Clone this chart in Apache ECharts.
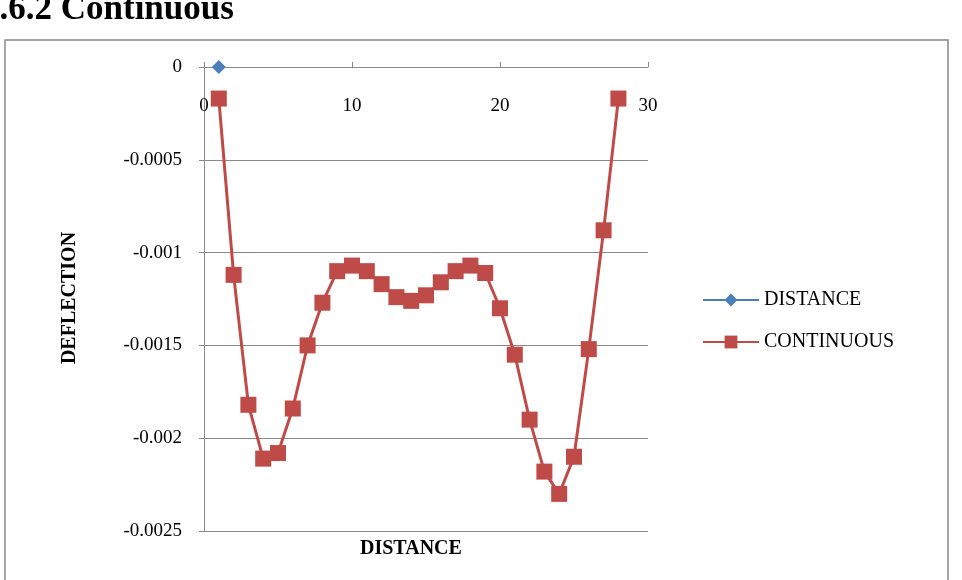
<!DOCTYPE html>
<html>
<head>
<meta charset="utf-8">
<script src="https://cdn.jsdelivr.net/npm/echarts@6/dist/echarts.min.js"></script>
<style>html,body{margin:0;padding:0;background:#fff}</style>
</head>
<body>
<div id="main" style="width:962px;height:580px"></div>
<script>
// 数据
var distancePts = [[1, 0]];
var contX = [1,2,3,4,5,6,7,8,9,10,11,12,13,14,15,16,17,18,19,20,21,22,23,24,25,26,27,28];
var contY = [-0.00017,-0.00112,-0.00182,-0.00211,-0.00208,-0.00184,-0.0015,-0.00127,-0.0011,-0.00107,
    -0.0011,-0.00117,-0.00124,-0.00126,-0.00123,-0.00116,-0.0011,-0.00107,-0.00111,-0.0013,
    -0.00155,-0.0019,-0.00218,-0.0023,-0.0021,-0.00152,-0.00088,-0.00017];
var contPts = [];
for (var i = 0; i < contX.length; i++) contPts.push([contX[i], contY[i]]);

var myChart = echarts.init(document.getElementById('main'));
var serif = 'Liberation Serif';
option = {
    animation: false,
    textStyle: {fontFamily: serif},
    graphic: [
        {type: 'rect', shape: {x: 5, y: 40, width: 943, height: 560}, style: {fill: 'none', stroke: '#888', lineWidth: 1.5}},
        {type: 'text', left: -18, top: -8, style: {text: '4.6.2 Continuous', font: 'bold 35px "Liberation Serif"', fill: '#000'}},
        {type: 'text', left: 360, top: 539, style: {text: 'DISTANCE', font: 'bold 20px "Liberation Serif"', fill: '#000'}},
        {type: 'text', x: 70, y: 298, rotation: Math.PI / 2, style: {text: 'DEFLECTION', font: 'bold 20px "Liberation Serif"', fill: '#000', align: 'center', verticalAlign: 'middle'}}
    ],
    legend: {
        orient: 'vertical',
        left: 697, top: 285,
        itemGap: 22,
        itemWidth: 56, itemHeight: 16,
        textStyle: {fontFamily: serif, fontSize: 20, color: '#000'},
        data: ['DISTANCE', 'CONTINUOUS']
    },
    grid: {left: 204, right: 314, top: 67, bottom: 49},
    xAxis: {
        type: 'value', min: 0, max: 30, interval: 10, position: 'top',
        axisLine: {lineStyle: {color: '#888'}},
        axisTick: {show: true, inside: false, lineStyle: {color: '#888'}},
        axisLabel: {inside: true, margin: 30, fontFamily: serif, fontSize: 19, color: '#000'},
        splitLine: {show: false}
    },
    yAxis: {
        type: 'value', min: -0.0025, max: 0, interval: 0.0005,
        axisLine: {show: true, lineStyle: {color: '#888'}},
        axisTick: {show: true, lineStyle: {color: '#888'}},
        axisLabel: {fontFamily: serif, fontSize: 19, color: '#000', margin: 22,
            formatter: function (v) { return v === 0 ? '0' : String(Number(v.toFixed(4))); }},
        splitLine: {lineStyle: {color: '#888'}}
    },
    series: [
        {name: 'DISTANCE', type: 'line', data: distancePts, symbol: 'diamond', symbolSize: 14,
            itemStyle: {color: '#4a7ebb'}, lineStyle: {color: '#4a7ebb', width: 3}},
        {name: 'CONTINUOUS', type: 'line', data: contPts, symbol: 'rect', symbolSize: 16,
            itemStyle: {color: '#be4b48'}, lineStyle: {color: '#be4b48', width: 3}}
    ]
};
myChart.setOption(option, true);
</script>
</body>
</html>
